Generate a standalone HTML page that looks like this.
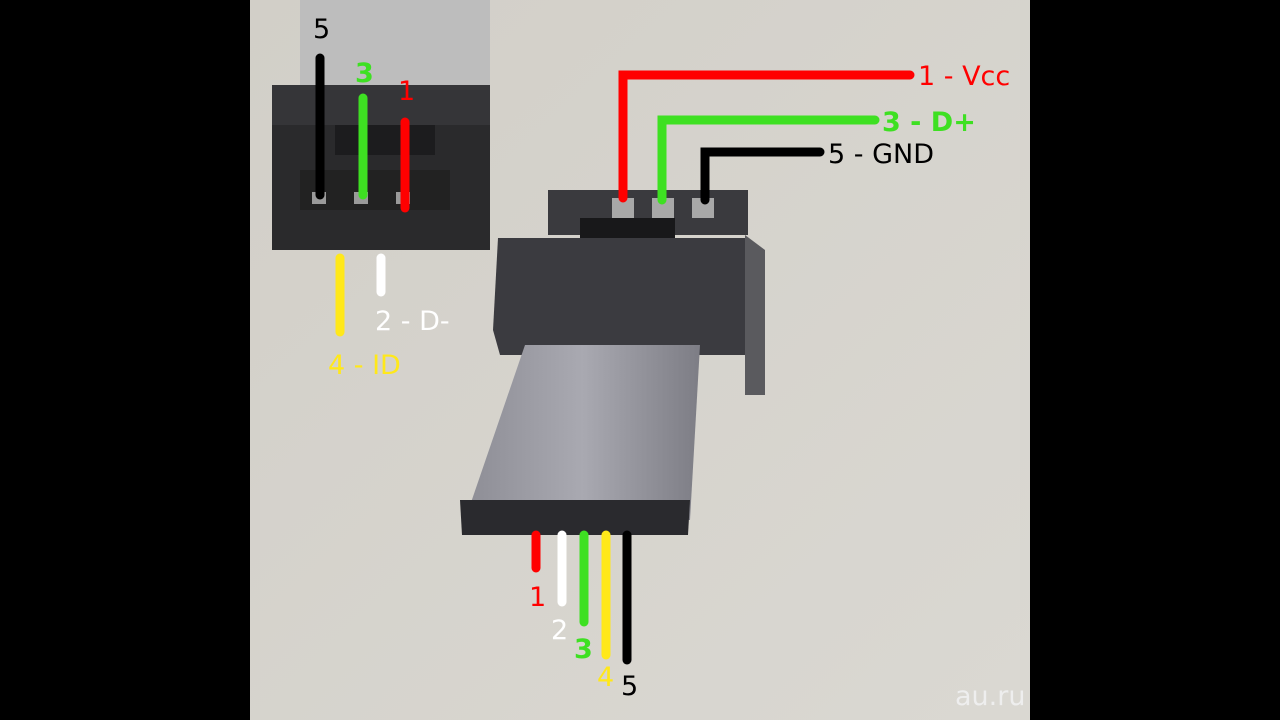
<!DOCTYPE html>
<html><head><style>
body{margin:0;background:#000;width:1280px;height:720px;overflow:hidden}
svg{display:block}
text{font-family:"DejaVu Sans","Liberation Sans",sans-serif;font-size:27px}
</style></head><body>
<svg width="1280" height="720" viewBox="0 0 1280 720">
<defs>
<linearGradient id="bg" x1="0" y1="0" x2="1" y2="1"><stop offset="0" stop-color="#d2cfc8"/><stop offset="1" stop-color="#dad8d2"/></linearGradient>
<linearGradient id="met" x1="0" y1="0" x2="1" y2="0"><stop offset="0" stop-color="#8d8d95"/><stop offset="0.5" stop-color="#a9a9b1"/><stop offset="1" stop-color="#7d7d85"/></linearGradient>
</defs>
<rect x="250" y="0" width="780" height="720" fill="url(#bg)"/>
<rect x="300" y="0" width="190" height="90" fill="#bdbdbd"/>
<rect x="272" y="85" width="218" height="165" fill="#2a2a2c"/>
<rect x="272" y="85" width="218" height="40" fill="#353538"/>
<rect x="335" y="125" width="100" height="30" fill="#1c1c1e"/>
<rect x="300" y="170" width="150" height="40" fill="#222"/>
<rect x="312" y="192" width="14" height="12" fill="#9a9a9a"/>
<rect x="354" y="192" width="14" height="12" fill="#9a9a9a"/>
<rect x="396" y="192" width="14" height="12" fill="#9a9a9a"/>
<rect x="548" y="190" width="200" height="45" fill="#3a3a3e"/>
<rect x="580" y="218" width="95" height="45" fill="#18181a"/>
<polygon points="745,235 765,250 765,395 745,395" fill="#5a5a5e"/>
<polygon points="498,238 745,238 745,355 500,355 493,330" fill="#3b3b40"/>
<polygon points="525,345 700,345 690,520 465,520" fill="url(#met)"/>
<polygon points="460,500 690,500 688,535 462,535" fill="#2a2a2e"/>
<rect x="612" y="198" width="22" height="20" fill="#a8a8a8"/>
<rect x="652" y="198" width="22" height="20" fill="#a8a8a8"/>
<rect x="692" y="198" width="22" height="20" fill="#a8a8a8"/>
<g stroke-width="9" stroke-linecap="round" fill="none">
<line x1="320" y1="58" x2="320" y2="195" stroke="#000"/>
<line x1="363" y1="98" x2="363" y2="195" stroke="#3ee022"/>
<line x1="405" y1="122" x2="405" y2="208" stroke="#f00"/>
<line x1="340" y1="258" x2="340" y2="332" stroke="#ffe81a"/>
<line x1="381" y1="258" x2="381" y2="292" stroke="#fff"/>
<polyline points="623,198 623,75 910,75" stroke="#f00"/>
<polyline points="662,200 662,120 875,120" stroke="#3ee022"/>
<polyline points="705,200 705,152 820,152" stroke="#000"/>
<line x1="536" y1="535" x2="536" y2="568" stroke="#f00"/>
<line x1="562" y1="535" x2="562" y2="602" stroke="#fff"/>
<line x1="584" y1="535" x2="584" y2="622" stroke="#3ee022"/>
<line x1="606" y1="535" x2="606" y2="655" stroke="#ffe81a"/>
<line x1="627" y1="535" x2="627" y2="660" stroke="#000"/>
</g>
<text x="313" y="38" fill="#000">5</text>
<text x="355" y="82" fill="#3ee022" font-weight="bold">3</text>
<text x="398" y="100" fill="#f00" font-size="21">1</text>
<text x="375" y="330" fill="#fff">2 - D-</text>
<text x="328" y="374" fill="#ffe81a">4 - ID</text>
<text x="918" y="85" fill="#f00">1 - Vcc</text>
<text x="882" y="131" fill="#3ee022" font-weight="bold">3 - D+</text>
<text x="828" y="163" fill="#000">5 - GND</text>
<text x="529" y="606" fill="#f00">1</text>
<text x="551" y="639" fill="#fff">2</text>
<text x="574" y="658" fill="#3ee022" font-weight="bold">3</text>
<text x="597" y="686" fill="#ffe81a">4</text>
<text x="621" y="695" fill="#000">5</text>
<text x="955" y="705" fill="#eee" font-size="22">au.ru</text>
</svg>
</body></html>
